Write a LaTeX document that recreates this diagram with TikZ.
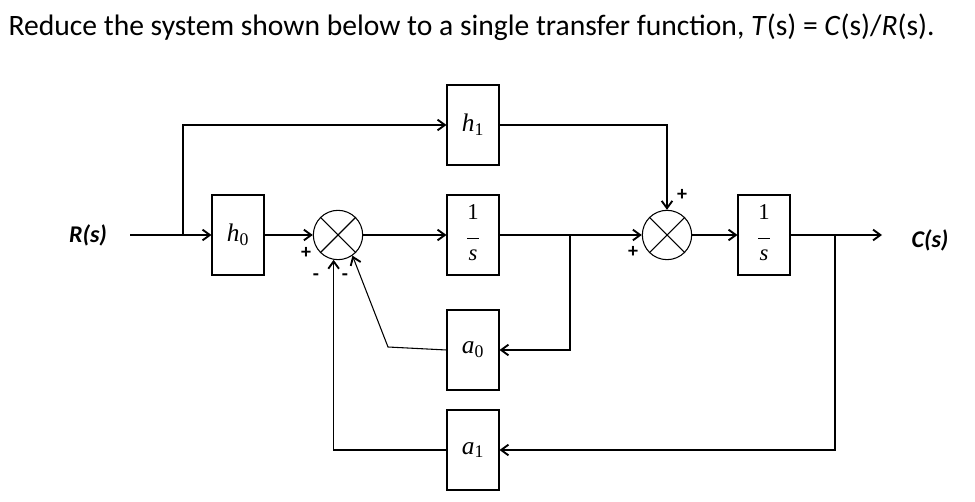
\documentclass[tikz,border=0pt]{standalone}
\usepackage{fontspec}
\setmainfont{Carlito}
\newfontfamily\tms{Liberation Serif}
\usetikzlibrary{arrows.meta}
\newcommand{\fr}{\tms\begin{tabular}{@{}c@{}}1\\[-3pt]\rule{9pt}{0.5pt}\\[-2pt]\itshape s\end{tabular}}
\begin{document}
\begin{tikzpicture}[x=0.75pt,y=-0.75pt,
  blk/.style={draw,line width=0.8pt,minimum width=39pt,minimum height=45pt,inner sep=0pt,font=\tms\fontsize{19}{20}\selectfont},
  sum/.style={draw,circle,line width=0.8pt,minimum size=37pt,inner sep=0pt},
  ar/.style={-{Straight Barb[length=5.5pt,width=8pt,line width=1.4pt]}},
  every path/.style={line width=0.8pt},
  sg/.style={font=\fontsize{15}{15}\selectfont\bfseries,inner sep=0pt}]
\useasboundingbox (0,0) rectangle (975,502);
\node[anchor=west,font=\fontsize{22.2}{24}\selectfont,inner sep=0pt] (title) at (8,27) {Reduce the system shown below to a single transfer function, \textit{T}(s) = \textit{C}(s)/\textit{R}(s).};
\node[font=\itshape\bfseries\fontsize{18}{20}\selectfont] (R) at (88,235) {R(s)};
\node[font=\itshape\bfseries\fontsize{18}{20}\selectfont] (C) at (930,240) {C(s)};
\node[blk,minimum height=60pt] (h1) at (473,125) {\itshape h\textsubscript{\upshape 1}};
\node[blk,minimum height=60pt] (h0) at (238,235) {\itshape h\textsubscript{\upshape 0}};
\node[blk,minimum height=60pt,font=\fontsize{17}{18}\selectfont] (g1) at (473,235) {\fr};
\node[blk,minimum height=60pt] (a0) at (473,350) {\itshape a\textsubscript{\upshape 0}};
\node[blk,minimum height=60pt] (a1) at (473,450) {\itshape a\textsubscript{\upshape 1}};
\node[blk,minimum height=60pt,font=\fontsize{17}{18}\selectfont] (g2) at (764,235) {\fr};
\node[sum] (s1) at (338,235) {};
\node[sum] (s2) at (667,235) {};
\foreach \n in {s1,s2}{
  \draw (\n.north west) -- (\n.south east);
  \draw (\n.north east) -- (\n.south west);}
\coordinate (b0) at (183,235);
\coordinate (b1) at (570,235);
\coordinate (b2) at (835,235);
\coordinate (Cend) at (882,235);
\draw[ar] (130,235) -- (h0.west);
\draw[ar] (b0) |- (h1.west);
\draw[ar] (h1.east) -| (s2.north);
\draw[ar] (h0.east) -- (s1.west);
\draw[ar] (s1.east) -- (g1.west);
\draw[ar] (g1.east) -- (s2.west);
\draw[ar] (s2.east) -- (g2.west);
\draw[ar] (g2.east) -- (Cend);
\draw[ar] (b1) |- (a0.east);
\draw[ar] (b2) |- (a1.east);
\draw[ar] (a0.west) -- (388,347) -- (s1.-55);
\draw[ar] (a1.west) -| (s1.-100);
\node[sg] at (306,253) {+};
\node[sg] at (316,277) {-};
\node[sg] at (345,277) {-};
\node[sg] at (633,252) {+};
\node[sg] at (682,195) {+};
\end{tikzpicture}
\end{document}
